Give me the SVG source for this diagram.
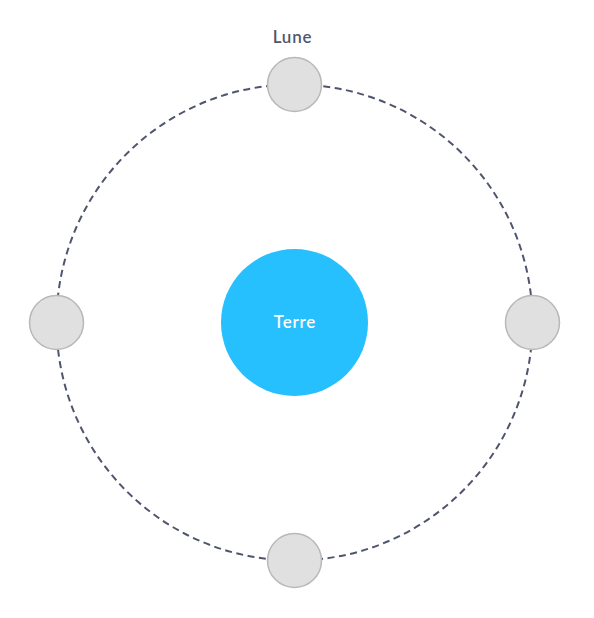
<svg xmlns="http://www.w3.org/2000/svg" width="594" height="618" viewBox="0 0 594 618">
<style>
.moon{fill:#e0e0e0;stroke:#b8b8b8;stroke-width:1.5}
.orbit{fill:none;stroke:#50556e;stroke-width:2;stroke-dasharray:7 4.5}
.lbl{font-family:Lato,"Open Sans",sans-serif;font-weight:600;font-size:17px;letter-spacing:0.8px;text-anchor:middle}
</style>
<rect width="594" height="618" fill="#ffffff"/>
<g id="connectors">
<circle class="orbit" cx="294.5" cy="322.5" r="238"/>
</g>
<g id="terre">
<circle cx="294.5" cy="322.5" r="73.5" fill="#27c0fe"/>
<text class="lbl" x="295" y="327.5" fill="#ffffff">Terre</text>
</g>
<g id="lune-top">
<circle class="moon" cx="294.5" cy="84.5" r="27"/>
<text class="lbl" x="292.5" y="42.5" fill="#51566e">Lune</text>
</g>
<g id="lune-left">
<circle class="moon" cx="56.5" cy="322.5" r="27"/>
</g>
<g id="lune-right">
<circle class="moon" cx="532.5" cy="322.5" r="27"/>
</g>
<g id="lune-bottom">
<circle class="moon" cx="294.5" cy="560.5" r="27"/>
</g>
</svg>
